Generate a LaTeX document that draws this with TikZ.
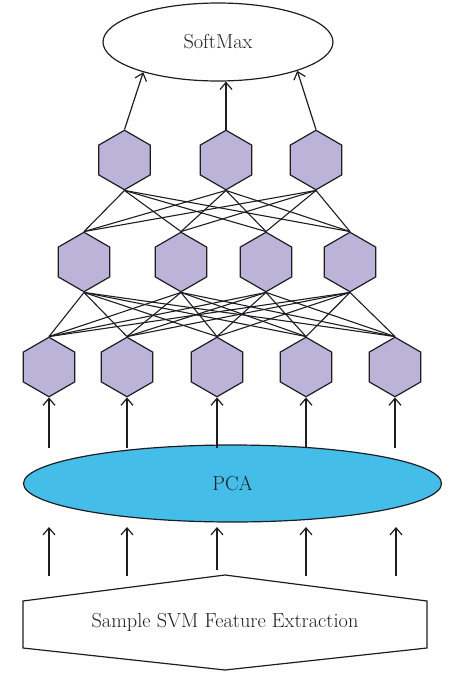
\documentclass[tikz,border=0pt]{standalone}
\usetikzlibrary{shapes.geometric,arrows.meta}
\definecolor{hexfill}{RGB}{188,180,216}
\definecolor{pcafill}{RGB}{68,190,232}
\definecolor{ink}{RGB}{30,30,34}
\begin{document}
\begin{tikzpicture}[x=1pt,y=-1pt,
  every node/.style={font=\fontsize{20.3}{24}\selectfont, text=ink},
  hexnode/.style={regular polygon, regular polygon sides=6, shape border rotate=30,
    minimum size=59.5pt, inner sep=0pt, draw=ink, line width=1.2pt, fill=hexfill},
  link/.style={draw=ink, line width=1.1pt},
  uparrow/.style={draw=ink, line width=1.2pt, -{Straight Barb[length=7pt,width=12pt,line width=1.2pt]}}]
\useasboundingbox (0,0) rectangle (474,694);

% output ellipse
\node[ellipse, draw=ink, line width=1.2pt, minimum width=230pt, minimum height=78pt, inner sep=0pt] (sm) at (218,42) {SoftMax};

% hidden layers
\node[hexnode] (t1) at (124.5,160) {};
\node[hexnode] (t2) at (226,160) {};
\node[hexnode] (t3) at (316,160) {};

\node[hexnode] (m1) at (84,262) {};
\node[hexnode] (m2) at (181,262) {};
\node[hexnode] (m3) at (266,262) {};
\node[hexnode] (m4) at (350,262) {};

\node[hexnode] (b1) at (49,367) {};
\node[hexnode] (b2) at (127,367) {};
\node[hexnode] (b3) at (217,367) {};
\node[hexnode] (b4) at (306,367) {};
\node[hexnode] (b5) at (395,367) {};

% full connections between layers
\foreach \u in {t1,t2,t3}
  \foreach \v in {m1,m2,m3,m4}
    \draw[link] (\u.south) -- (\v.north);
\foreach \u in {m1,m2,m3,m4}
  \foreach \v in {b1,b2,b3,b4,b5}
    \draw[link] (\u.south) -- (\v.north);

% arrows into the output
\draw[uparrow] (t1.north) -- (sm.202.9);
\draw[uparrow] (t2.north) -- (t2.north |- sm.south);
\draw[uparrow] (t3.north) -- (sm.340.5);

% PCA layer
\node[ellipse, draw=ink, line width=1.2pt, fill=pcafill, minimum width=418pt, minimum height=77pt, inner sep=0pt] (pca) at (232.5,483.5) {PCA};

\foreach \i/\x in {1/49,2/127,3/217,4/306,5/395}{
  \coordinate (po\i) at (\x,448);
  \draw[uparrow] (po\i) -- (b\i.south);
}

% feature extraction block
\node (fe) at (225,622) {Sample SVM Feature Extraction};
\draw[ink, line width=1.2pt] (225,575) -- (427,601) -- (427,648) -- (225,670) -- (23,648) -- (23,601) -- cycle;

\foreach \i/\x/\y in {1/49/576,2/127/576,3/217/570,4/306/576,5/396/576}{
  \coordinate (fi\i) at (\x,\y);
  \coordinate (pi\i) at (\x,527);
  \draw[uparrow] (fi\i) -- (pi\i);
}
\end{tikzpicture}
\end{document}
